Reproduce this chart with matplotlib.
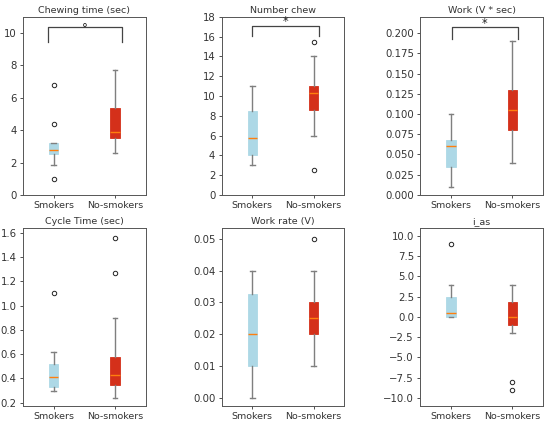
"""Smokers vs non-smokers chewing parameters, 2x3 box plots."""

import matplotlib

matplotlib.use("Agg")
import matplotlib.pyplot as plt

groups = ["Smokers", "No-smokers"]
titles = ["Chewing time (sec)", "Number chew", "Work (V * sec)",
          "Cycle Time (sec)", "Work rate (V)", "i_as"]

# box stats per group: [whislo, q1, med, q3, whishi]
chew_time_smk = [1.85, 2.5, 2.75, 3.2, 3.2]
chew_time_non = [2.6, 3.5, 3.9, 5.35, 7.7]
chew_time_fl_smk = [6.8, 4.4, 1.0]
chew_time_fl_non = []

n_chew_smk = [3.0, 4.0, 5.8, 8.5, 11.0]
n_chew_non = [6.0, 8.6, 10.3, 11.0, 14.0]
n_chew_fl_smk = []
n_chew_fl_non = [15.5, 2.5]

work_smk = [0.01, 0.035, 0.06, 0.068, 0.10]
work_non = [0.04, 0.08, 0.105, 0.13, 0.19]
work_fl_smk = []
work_fl_non = []

cycle_smk = [0.30, 0.33, 0.415, 0.515, 0.62]
cycle_non = [0.24, 0.345, 0.425, 0.575, 0.90]
cycle_fl_smk = [1.10]
cycle_fl_non = [1.27, 1.56]

rate_smk = [0.0, 0.01, 0.02, 0.0325, 0.04]
rate_non = [0.01, 0.02, 0.025, 0.03, 0.04]
rate_fl_smk = []
rate_fl_non = [0.05]

ias_smk = [0.0, 0.0, 0.5, 2.5, 4.0]
ias_non = [-2.0, -1.0, 0.0, 1.8, 4.0]
ias_fl_smk = [9.0]
ias_fl_non = [-8.0, -9.0]

panels = [
    (chew_time_smk, chew_time_non, chew_time_fl_smk, chew_time_fl_non),
    (n_chew_smk, n_chew_non, n_chew_fl_smk, n_chew_fl_non),
    (work_smk, work_non, work_fl_smk, work_fl_non),
    (cycle_smk, cycle_non, cycle_fl_smk, cycle_fl_non),
    (rate_smk, rate_non, rate_fl_smk, rate_fl_non),
    (ias_smk, ias_non, ias_fl_smk, ias_fl_non),
]

ylims = [(0, 11.0), (0, 18), (0, 0.22), (0.173, 1.64), (-0.0026, 0.0534), (-11, 11)]
yticks = [
    [0, 2, 4, 6, 8, 10],
    [0, 2, 4, 6, 8, 10, 12, 14, 16, 18],
    [0, 0.025, 0.05, 0.075, 0.1, 0.125, 0.15, 0.175, 0.2],
    [0.2, 0.4, 0.6, 0.8, 1.0, 1.2, 1.4, 1.6],
    [0, 0.01, 0.02, 0.03, 0.04, 0.05],
    [-10, -7.5, -5, -2.5, 0, 2.5, 5, 7.5, 10],
]
tick_fmt = ["{:.0f}", "{:.0f}", "{:.3f}", "{:.1f}", "{:.2f}", "{:.1f}"]

# significance brackets: (x0, x1, y_low, y_high, y_mark, mark)
brackets = {
    0: (0.9, 2.11, 9.44, 10.39, 10.25, "°"),
    1: (1.0, 2.08, 16.03, 17.1, 17.55, "*"),
    2: (1.01, 2.1, 0.193, 0.2074, 0.2115, "*"),
}

box_colors = ["#add8e6", "#d4301a"]
text_color = "#333333"
fs = 6.8
fs_y = 7.3

fig, axes = plt.subplots(2, 3, figsize=(5.5, 4.22), dpi=100)
fig.subplots_adjust(left=0.042, right=0.987, top=0.96, bottom=0.038, wspace=0.62, hspace=0.185)

for i, ax in enumerate(axes.flat):
    smk, non, fl_smk, fl_non = panels[i]
    stats = []
    for vals, fl, lab in ((smk, fl_smk, groups[0]), (non, fl_non, groups[1])):
        stats.append(dict(whislo=vals[0], q1=vals[1], med=vals[2], q3=vals[3],
                          whishi=vals[4], fliers=fl, label=lab))
    parts = ax.bxp(
        stats, positions=[1, 2], widths=0.15, patch_artist=True,
        whiskerprops=dict(color="#7f7f7f", lw=1.0),
        capprops=dict(color="#7f7f7f", lw=1.0),
        medianprops=dict(color="#ff7f0e", lw=1.0),
        flierprops=dict(marker="o", markerfacecolor="none", markeredgecolor="#222222",
                        markersize=3.2, markeredgewidth=0.7),
    )
    for box, c in zip(parts["boxes"], box_colors):
        box.set_facecolor(c)
        box.set_edgecolor(c)
        box.set_linewidth(0.6)

    ax.set_xlim(0.5, 2.5)
    ax.set_ylim(*ylims[i])
    ax.set_yticks(yticks[i])
    ax.set_yticklabels([tick_fmt[i].format(v).replace("-", "\u2212") for v in yticks[i]])
    ax.set_xticks([1, 2])
    ax.set_xticklabels(groups)
    ax.set_title(titles[i], fontsize=fs, color=text_color, pad=3)
    ax.tick_params(colors=text_color, length=2.5, width=0.6, pad=2)
    ax.tick_params(axis="x", labelsize=fs)
    ax.tick_params(axis="y", labelsize=fs_y)
    for sp in ax.spines.values():
        sp.set_color("#555555")
        sp.set_linewidth(0.7)

    if i in brackets:
        x0, x1, ylo, yhi, ymark, mark = brackets[i]
        ax.plot([x0, x0, x1, x1], [ylo, yhi, yhi, ylo], color="#444444", lw=0.9)
        ax.text((x0 + x1) / 2, ymark, mark, ha="center", va="center",
                fontsize=fs + 1.5, color="#222222")

plt.savefig("out.png", dpi=100, facecolor="white")
plt.close(fig)
